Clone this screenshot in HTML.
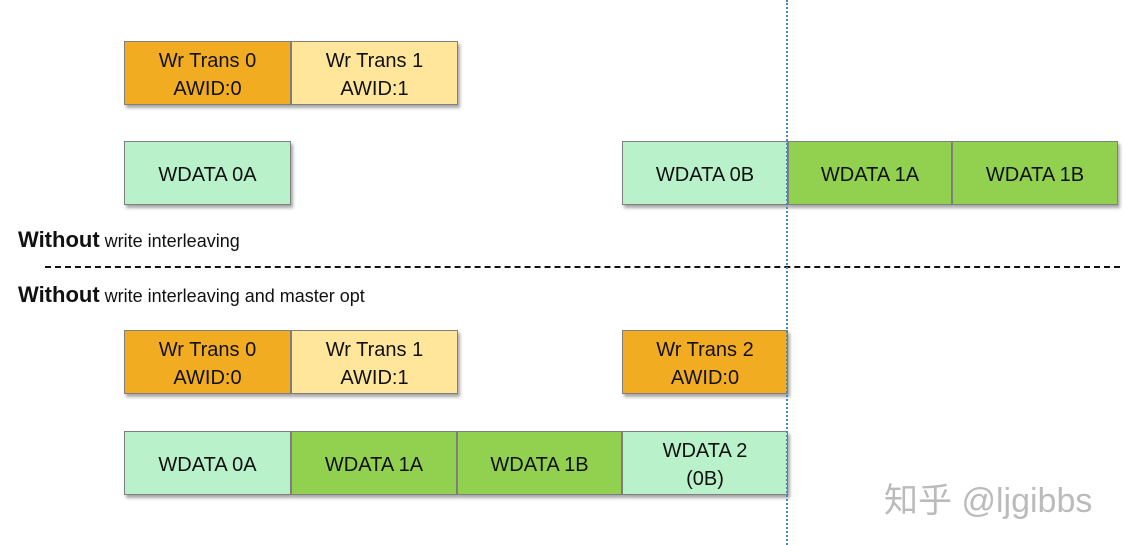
<!DOCTYPE html>
<html><head><style>
body{margin:0;width:1128px;height:545px;background:#fff;position:relative;overflow:hidden;font-family:"Liberation Sans",sans-serif;}
.b{position:absolute;box-sizing:border-box;border:1px solid #7f7f7f;display:flex;align-items:center;justify-content:center;text-align:center;font-size:20px;line-height:28px;padding-top:4px;color:#111;box-shadow:2px 3px 3px rgba(0,0,0,0.35);}
.o{background:#F2AC22}.y{background:#FFE69A}.lg{background:#B9F1CB}.g{background:#92D050}
.t{position:absolute;left:18px;font-size:18px;color:#111;}
.t b{font-size:22px;}
</style></head><body>
<div class="b o" style="left:124px;top:41px;width:167px;height:64px">Wr Trans 0<br>AWID:0</div>
<div class="b y" style="left:291px;top:41px;width:167px;height:64px">Wr Trans 1<br>AWID:1</div>
<div class="b lg" style="left:124px;top:141px;width:167px;height:64px">WDATA 0A</div>
<div class="b lg" style="left:622px;top:141px;width:166px;height:64px">WDATA 0B</div>
<div class="b g" style="left:788px;top:141px;width:164px;height:64px">WDATA 1A</div>
<div class="b g" style="left:952px;top:141px;width:166px;height:64px">WDATA 1B</div>
<div class="t" style="top:227px"><b>Without</b> write interleaving</div>
<div style="position:absolute;left:45px;top:266px;width:1075px;border-top:2px dashed #111"></div>
<div class="t" style="top:282px"><b>Without</b> write interleaving and master opt</div>
<div class="b o" style="left:124px;top:330px;width:167px;height:64px">Wr Trans 0<br>AWID:0</div>
<div class="b y" style="left:291px;top:330px;width:167px;height:64px">Wr Trans 1<br>AWID:1</div>
<div class="b o" style="left:622px;top:330px;width:166px;height:64px">Wr Trans 2<br>AWID:0</div>
<div class="b lg" style="left:124px;top:431px;width:167px;height:64px">WDATA 0A</div>
<div class="b g" style="left:291px;top:431px;width:166px;height:64px">WDATA 1A</div>
<div class="b g" style="left:457px;top:431px;width:165px;height:64px">WDATA 1B</div>
<div class="b lg" style="left:622px;top:431px;width:166px;height:64px">WDATA 2<br>(0B)</div>
<div style="position:absolute;left:786px;top:0;height:545px;border-left:2px dotted #4a86b8"></div>
<div style="position:absolute;left:884px;top:473px;font-size:34px;color:#bbb;font-family:'Liberation Sans','Noto Sans CJK SC',sans-serif">知乎 @ljgibbs</div>
</body></html>
